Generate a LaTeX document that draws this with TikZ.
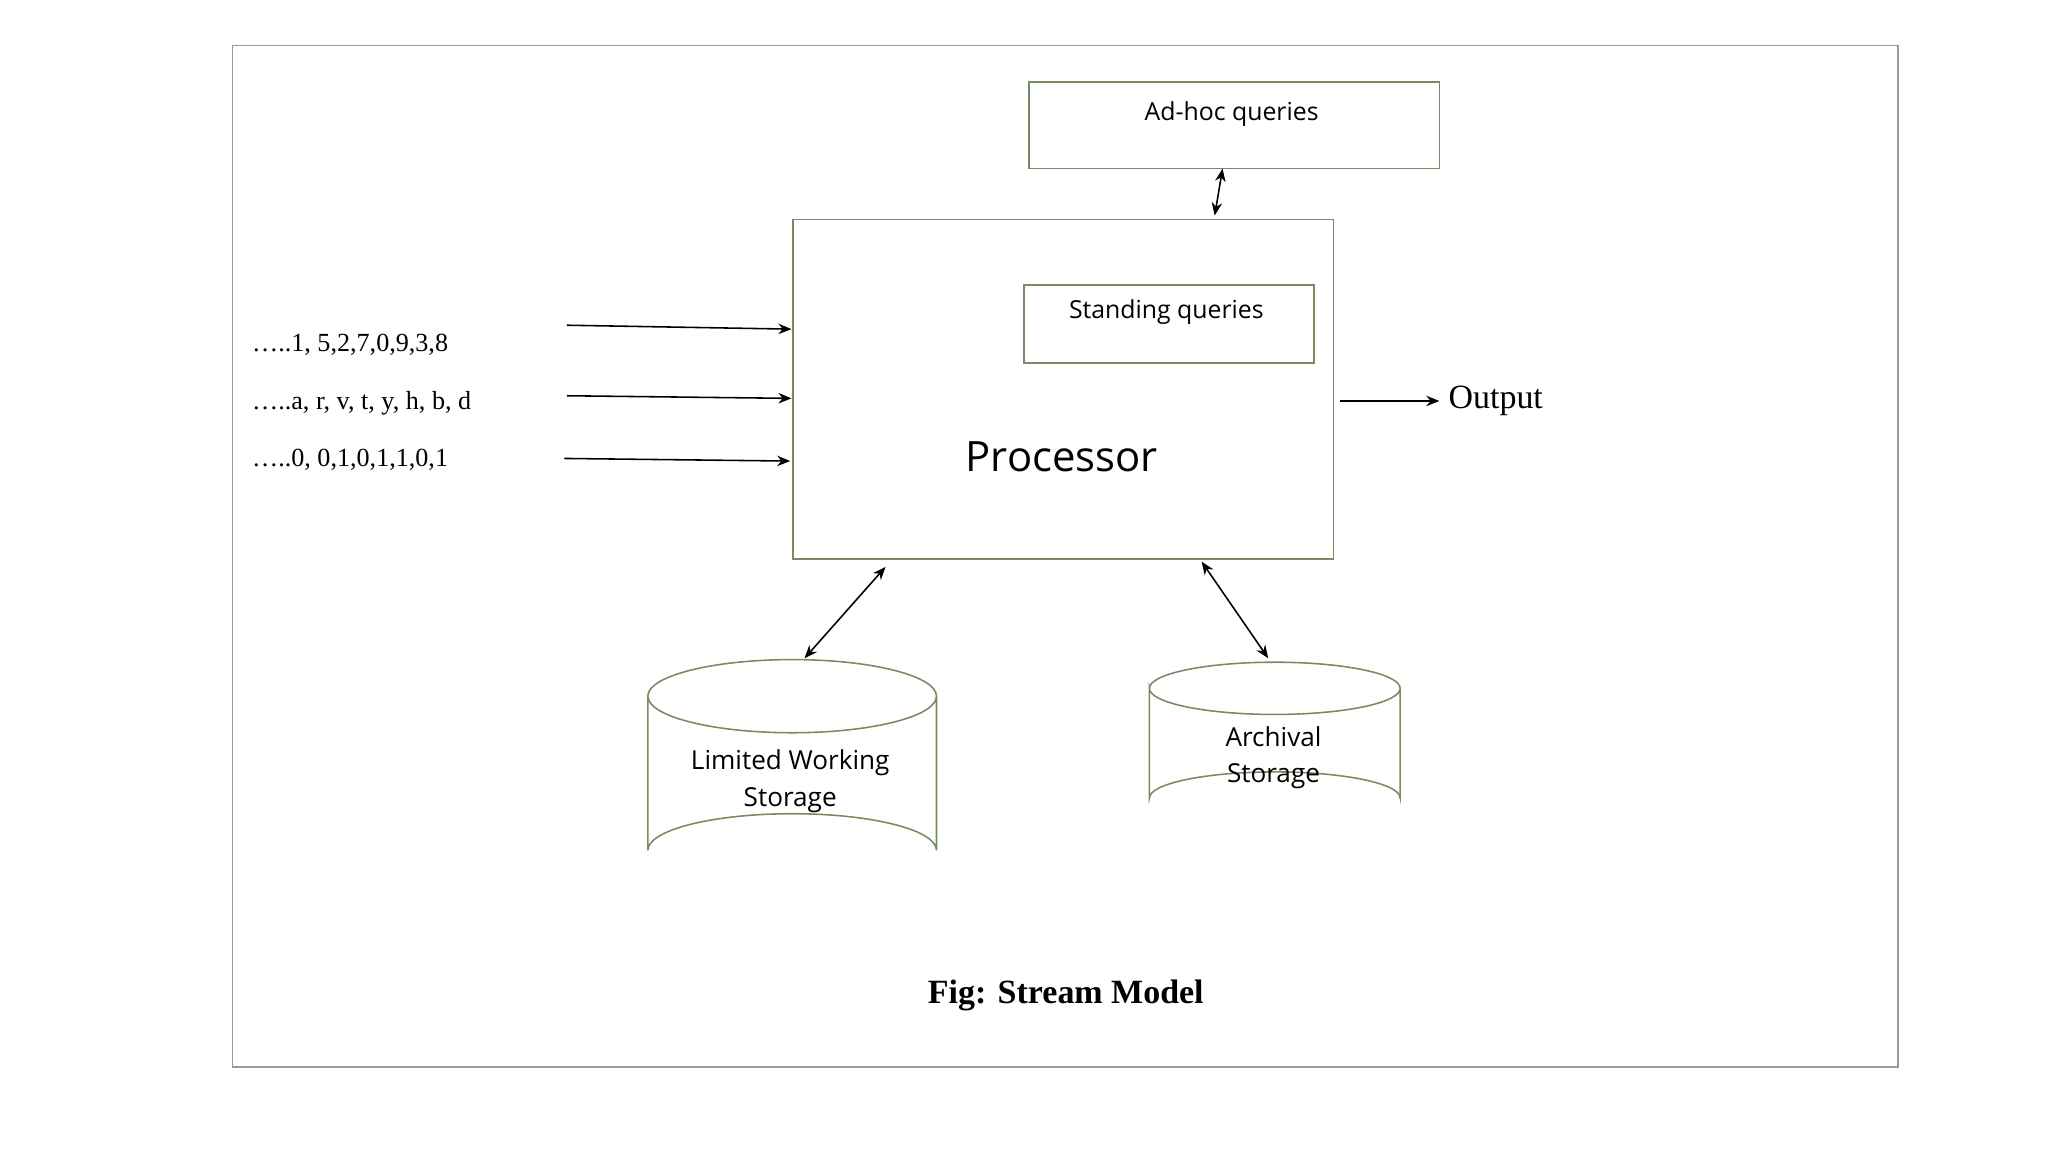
\documentclass[tikz,border=0pt]{standalone}
\usepackage{fontspec}
\setmainfont{Liberation Serif}
\newfontfamily\sans{Open Sans}
\usetikzlibrary{arrows.meta}
\definecolor{boxc}{RGB}{120,140,100}
\begin{document}
\begin{tikzpicture}[x=0.5pt,y=-0.5pt,
  box/.style={draw=boxc,line width=0.6pt},
  arr/.style={-{Stealth[length=5pt,width=4pt]},line width=0.6pt},
  darr/.style={{Stealth[length=5pt,width=4pt]}-{Stealth[length=5pt,width=4pt]},line width=0.6pt},
  sm/.style={font=\sans\fontsize{9.5}{12}\selectfont,align=center},
  inp/.style={font=\fontsize{10}{12}\selectfont,anchor=west}]
\useasboundingbox[fill=white] (0,0) rectangle (1568,882);
\draw[gray!80,line width=0.6pt] (178,35) rectangle (1453,817);
% boxes
\draw[box] (788,63) rectangle (1102,129);
\node[sm] (adhoc) at (943,87) {Ad-hoc queries};
\draw[box] (607,168) rectangle (1021,428);
\draw[box] (784,218) rectangle (1006,278);
\node[sm] (stand) at (893,239) {Standing queries};
\node[font=\sans\fontsize{16}{18}\selectfont] (proc) at (813,350) {Processor};
% connectors
\coordinate (a1) at (936,129); \coordinate (a2) at (930,165);
\draw[darr] (a1) -- (a2);
\node[inp] (s1) at (186,264) {\dots..1, 5,2,7,0,9,3,8};
\node[inp] (s2) at (186,309) {\dots..a, r, v, t, y, h, b, d};
\node[inp] (s3) at (186,352) {\dots..0, 0,1,0,1,1,0,1};
\coordinate (i1) at (434,249); \coordinate (j1) at (606,252);
\coordinate (i2) at (434,303); \coordinate (j2) at (606,305);
\coordinate (i3) at (432,351); \coordinate (j3) at (605,353);
\draw[arr] (i1) -- (j1); \draw[arr] (i2) -- (j2); \draw[arr] (i3) -- (j3);
\node[font=\fontsize{13}{15}\selectfont,anchor=west] (out) at (1102,307) {Output};
\coordinate (o1) at (1026,307);
\draw[arr] (o1) -- (out.west);
% cylinders
\draw[box] (496,533) arc[start angle=180,end angle=360,x radius=110.5,y radius=28]
  arc[start angle=0,end angle=180,x radius=110.5,y radius=28] -- (496,651)
  arc[start angle=180,end angle=360,x radius=110.5,y radius=28] -- (717,533);
\node[sm,font=\sans\fontsize{10}{14}\selectfont] (lws) at (605,598) {Limited Working\\Storage};
\draw[box] (880,527) arc[start angle=180,end angle=360,x radius=96,y radius=20]
  arc[start angle=0,end angle=180,x radius=96,y radius=20] -- (880,611)
  arc[start angle=180,end angle=360,x radius=96,y radius=20] -- (1072,527);
\node[sm,font=\sans\fontsize{10}{14}\selectfont] (arch) at (975,580) {Archival\\Storage};
\coordinate (p1) at (678,434); \coordinate (c1) at (616,504);
\coordinate (p2) at (920,430); \coordinate (c2) at (971,504);
\draw[darr] (p1) -- (c1); \draw[darr] (p2) -- (c2);
\node[font=\bfseries\fontsize{13}{15}\selectfont] (cap) at (816,762) {Fig: Stream Model};
\end{tikzpicture}
\end{document}
